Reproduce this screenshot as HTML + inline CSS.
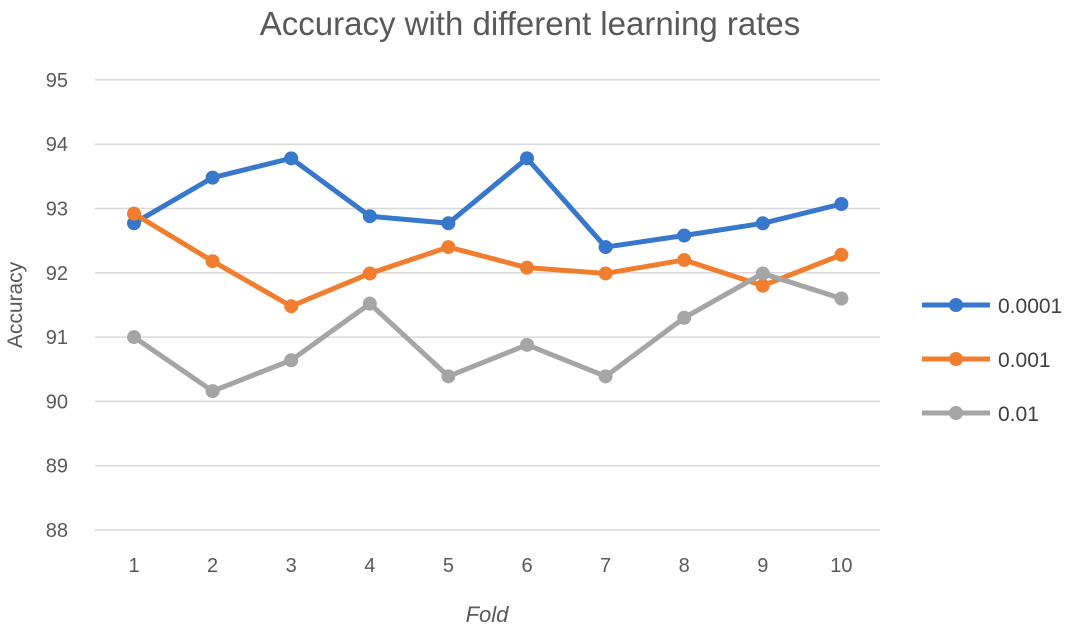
<!DOCTYPE html>
<html><head><meta charset="utf-8"><style>
html,body{margin:0;padding:0;background:#fff;}
svg{display:block;font-family:"Liberation Sans",sans-serif;}
</style></head><body>
<svg id="chart" width="1080" height="626" viewBox="0 0 1080 626">
<text x="530" y="35" text-anchor="middle" font-size="33" fill="#595959">Accuracy with different learning rates</text>
<g id="grid"></g><g id="yticks"></g><g id="xticks"></g><g id="series"></g><g id="legend"></g>
<text x="487" y="622" text-anchor="middle" font-size="22" font-style="italic" fill="#595959">Fold</text>
<text transform="translate(22,305) rotate(-90)" text-anchor="middle" font-size="21" fill="#595959">Accuracy</text>
</svg>
<script>
const folds = [1,2,3,4,5,6,7,8,9,10];
const yTicks = [88,89,90,91,92,93,94,95];
const seriesNames = ["0.0001","0.001","0.01"];
const s0001 = [92.77,93.48,93.78,92.88,92.77,93.78,92.4,92.58,92.77,93.07];
const s001 = [92.92,92.18,91.48,91.99,92.4,92.08,91.99,92.2,91.8,92.28];
const s01 = [91.0,90.16,90.64,91.52,90.39,90.88,90.39,91.3,91.99,91.6];
const colors = ["#3777CC","#F07E2E","#A5A5A5"];
const NS="http://www.w3.org/2000/svg";
const xs = f => 134 + (f-1)*78.6;
const ys = v => 530 - (v-88)*64.3;
function mk(tag,attrs,parent,txt){const e=document.createElementNS(NS,tag);for(const k in attrs)e.setAttribute(k,attrs[k]);if(txt!==undefined)e.textContent=txt;parent.appendChild(e);return e;}
const grid=document.getElementById('grid'), yt=document.getElementById('yticks'), xt=document.getElementById('xticks'), sg=document.getElementById('series'), lg=document.getElementById('legend');
yTicks.forEach(v=>{
  const l=mk('line',{x1:95,x2:880,y1:ys(v),y2:ys(v),stroke:'#d9d9d9','stroke-width':1.5},grid);
  
  
  const t=mk('text',{x:68,y:ys(v)+7,'text-anchor':'end','font-size':20,fill:'#595959'},yt,String(v));
  
  
});
folds.forEach(f=>{
  const t=mk('text',{x:xs(f),y:572,'text-anchor':'middle','font-size':20,fill:'#595959'},xt,String(f));
  
  
});
[s0001,s001,s01].forEach((data,i)=>{
  const g=mk('g',{},sg);
  
  
  const p=mk('polyline',{points:data.map((v,j)=>xs(folds[j])+','+ys(v)).join(' '),fill:'none',stroke:colors[i],'stroke-width':5,'stroke-linejoin':'round'},g);
  
  
  data.forEach((v,j)=>{
    const c=mk('circle',{cx:xs(folds[j]),cy:ys(v),r:7,fill:colors[i]},g);
    
    
  });
  const ly=305+i*54;
  const le=mk('g',{},lg);
  
  
  mk('line',{x1:922,x2:990,y1:ly,y2:ly,stroke:colors[i],'stroke-width':5},le);
  mk('circle',{cx:956,cy:ly,r:7,fill:colors[i]},le);
  mk('text',{x:998,y:ly+8,'font-size':21,fill:'#404040'},le,seriesNames[i]);
});
</script>
</body></html>
